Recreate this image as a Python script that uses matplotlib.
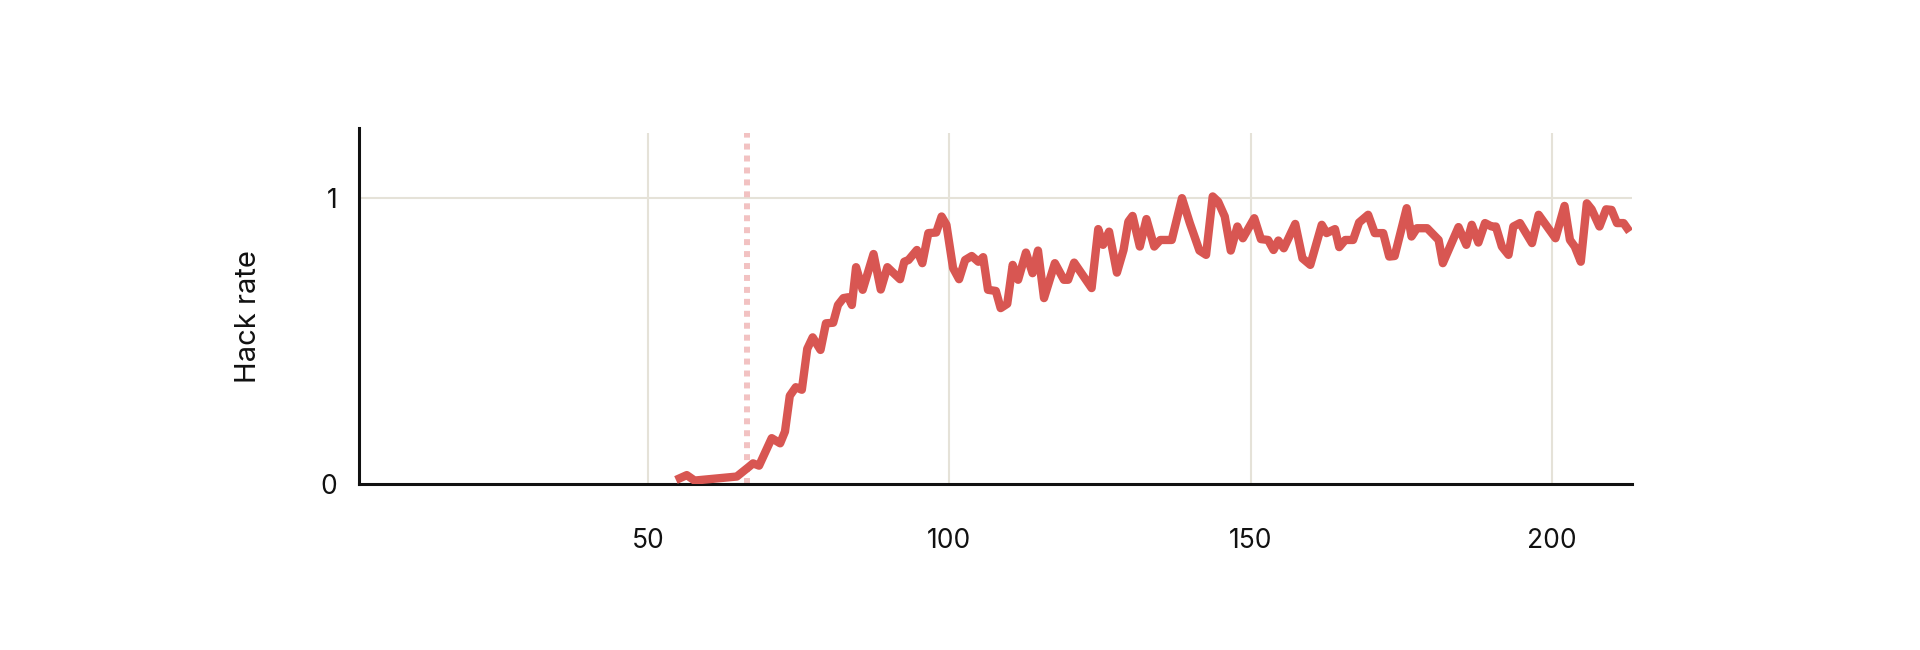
import matplotlib
matplotlib.use("Agg")
import matplotlib.pyplot as plt

plt.rcParams['font.family'] = ['Inter', 'DejaVu Sans']

# hack rate (step, rate)
steps = [54.6, 56.4, 57.7, 64.7, 66.6, 67.4, 68.4, 70.5, 71.9, 72.7, 73.5, 74.5, 75.5,
         76.4, 77.3, 78.6, 79.5, 80.7, 81.5, 82.4, 83.2, 83.8, 84.5, 85.6, 87.4, 88.6,
         89.7, 91.8, 92.5, 93.2, 94.6, 95.5, 96.5, 97.8, 98.7, 99.5, 100.6, 101.6,
         102.6, 103.7, 104.8, 105.6, 106.4, 107.7, 108.5, 109.6, 110.5, 111.4, 112.7,
         113.8, 114.7, 115.7, 117.5, 119.0, 119.7, 120.7, 123.6, 124.7, 125.5, 126.5,
         127.8, 128.9, 129.7, 130.4, 131.6, 132.7, 134.0, 135.0, 136.9, 138.6, 139.9,
         141.5, 142.6, 143.7, 144.6, 145.7, 146.7, 147.8, 148.7, 150.6, 151.7, 152.9,
         153.8, 154.6, 155.5, 157.4, 158.6, 159.9, 161.8, 162.6, 164.0, 164.7, 165.7,
         167.0, 168.0, 169.5, 170.6, 172.0, 173.0, 173.9, 175.9, 176.7, 177.6, 179.3,
         181.2, 181.9, 184.5, 185.8, 186.7, 187.8, 188.9, 190.0, 190.7, 191.7, 192.8,
         193.6, 194.7, 196.7, 197.8, 200.6, 202.1, 203.0, 203.8, 204.8, 205.8, 206.6,
         207.9, 209.0, 209.9, 210.8, 211.9, 212.9]
hack_rate = [0.014, 0.031, 0.012, 0.026, 0.058, 0.072, 0.064, 0.160, 0.142, 0.183, 0.308,
             0.338, 0.329, 0.472, 0.512, 0.468, 0.561, 0.563, 0.625, 0.649, 0.652, 0.625,
             0.757, 0.678, 0.803, 0.679, 0.757, 0.715, 0.776, 0.782, 0.817, 0.771, 0.876,
             0.878, 0.934, 0.905, 0.754, 0.715, 0.782, 0.796, 0.776, 0.792, 0.678, 0.674,
             0.614, 0.629, 0.765, 0.713, 0.808, 0.736, 0.815, 0.649, 0.771, 0.713, 0.713,
             0.773, 0.684, 0.890, 0.835, 0.881, 0.738, 0.817, 0.916, 0.936, 0.829, 0.925,
             0.829, 0.852, 0.852, 0.998, 0.911, 0.815, 0.800, 1.004, 0.986, 0.934, 0.815,
             0.899, 0.858, 0.928, 0.855, 0.852, 0.817, 0.850, 0.823, 0.908, 0.788, 0.765,
             0.905, 0.876, 0.890, 0.827, 0.852, 0.852, 0.913, 0.940, 0.876, 0.876, 0.794,
             0.796, 0.963, 0.864, 0.893, 0.893, 0.852, 0.771, 0.897, 0.835, 0.905, 0.843,
             0.911, 0.899, 0.899, 0.829, 0.800, 0.899, 0.911, 0.841, 0.940, 0.858, 0.971,
             0.852, 0.829, 0.776, 0.980, 0.959, 0.899, 0.959, 0.957, 0.911, 0.911, 0.881]

marker_step = 66.4
x_ticks = [50, 100, 150, 200]
y_ticks = [0, 1]

LINE_COLOR = "#d85652"
MARKER_COLOR = "#f2c2c2"
GRID_COLOR = "#e5e2d8"
TEXT_COLOR = "#111111"

fig = plt.figure(figsize=(19.2, 6.5), dpi=100)
ax = fig.add_axes([0.187, 0.2554, 0.663, 0.5477])

ax.vlines(x_ticks, 0, 1.226, color=GRID_COLOR, linewidth=1.5, zorder=1)
ax.axhline(1, color=GRID_COLOR, linewidth=1.5, zorder=1)
ax.vlines([marker_step], 0, 1.226, color=MARKER_COLOR, linewidth=4.3,
          linestyles=(0, (1, 1)), zorder=2)
ax.plot(steps, hack_rate, color=LINE_COLOR, linewidth=6, solid_joinstyle="round",
        solid_capstyle="butt", zorder=3)

ax.set_xlim(2, 213.3)
ax.set_ylim(0, 1.243)
ax.set_xticks(x_ticks)
ax.set_yticks(y_ticks)
ax.set_xticklabels([str(t) for t in x_ticks])
ax.set_yticklabels([str(t) for t in y_ticks])
ax.tick_params(axis="x", length=0, pad=32, labelsize=19, labelcolor=TEXT_COLOR)
ax.tick_params(axis="y", length=0, pad=15.5, labelsize=19, labelcolor=TEXT_COLOR)

for side in ["top", "right"]:
    ax.spines[side].set_visible(False)
for side in ["left", "bottom"]:
    ax.spines[side].set_linewidth(2.2)
    ax.spines[side].set_color(TEXT_COLOR)

ax.set_ylabel("Hack rate", fontsize=21, color=TEXT_COLOR)
ax.yaxis.set_label_coords(-0.0765, 0.47)

plt.savefig("out.png", dpi=100)
